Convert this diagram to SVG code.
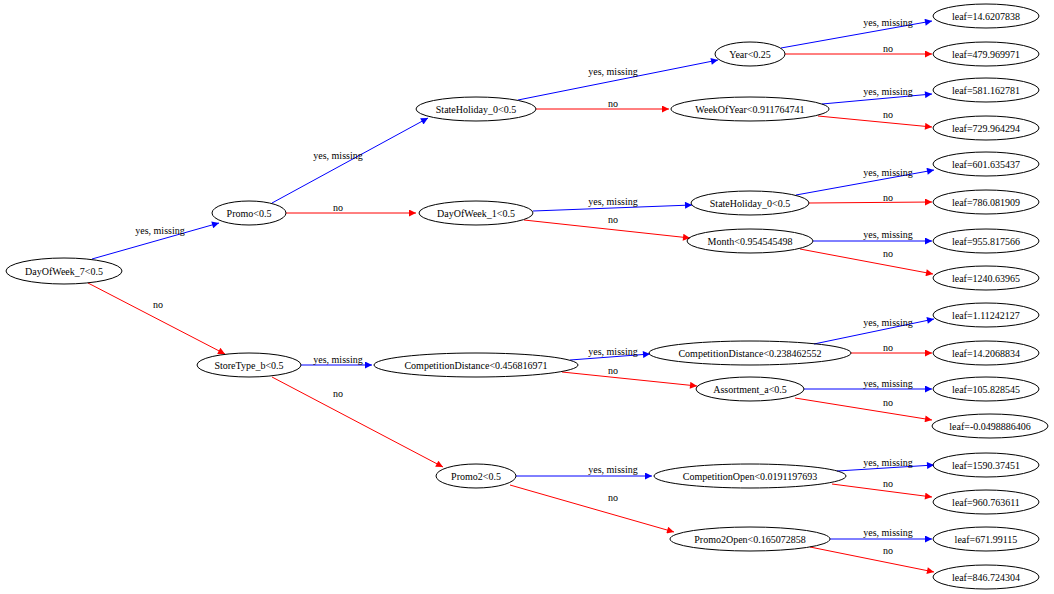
<svg xmlns="http://www.w3.org/2000/svg" width="1054" height="594" viewBox="0 0 1054 594">
<style>
text{font-family:"Liberation Serif","Times New Roman",serif;font-size:10px;fill:#000}
.n ellipse{fill:none;stroke:#000;stroke-width:1}
.n text{text-anchor:middle;dominant-baseline:central}
.y{stroke:#0000ff;fill:none;marker-end:url(#ab)}
.r{stroke:#ff0000;fill:none;marker-end:url(#ar)}
.l{text-anchor:middle}
</style>
<defs>
<marker id="ab" viewBox="0 0 10 10" refX="10" refY="5" markerWidth="9" markerHeight="7" orient="auto" markerUnits="userSpaceOnUse"><path d="M0,0L10,5L0,10z" fill="#0000ff"/></marker>
<marker id="ar" viewBox="0 0 10 10" refX="10" refY="5" markerWidth="9" markerHeight="7" orient="auto" markerUnits="userSpaceOnUse"><path d="M0,0L10,5L0,10z" fill="#ff0000"/></marker>
</defs>
<rect width="1054" height="594" fill="#fff"/>
<g id="connectors">
<path class="y" d="M92,259L219,223"/><text class="l" x="160" y="234">yes, missing</text>
<path class="r" d="M88,283L225,354"/><text class="l" x="158" y="308">no</text>
<path class="y" d="M272,203L428,118"/><text class="l" x="338" y="159">yes, missing</text>
<path class="r" d="M286,213L416,213"/><text class="l" x="338" y="211">no</text>
<path class="y" d="M301,365L372,365"/><text class="l" x="338" y="363">yes, missing</text>
<path class="r" d="M272,377L443,467"/><text class="l" x="338" y="397">no</text>
<path class="y" d="M518,100L718,60"/><text class="l" x="613" y="75">yes, missing</text>
<path class="r" d="M536,109L669,109"/><text class="l" x="613" y="107">no</text>
<path class="y" d="M533,211L692,205"/><text class="l" x="613" y="205">yes, missing</text>
<path class="r" d="M524,220L690,238"/><text class="l" x="613" y="223">no</text>
<path class="y" d="M570,360L650,354"/><text class="l" x="613" y="355">yes, missing</text>
<path class="r" d="M562,372L697,386"/><text class="l" x="613" y="374">no</text>
<path class="y" d="M516,476L652,476"/><text class="l" x="613" y="473">yes, missing</text>
<path class="r" d="M510,485L674,532"/><text class="l" x="613" y="501">no</text>
<path class="y" d="M781,48L932,21"/><text class="l" x="888" y="26">yes, missing</text>
<path class="r" d="M785,54L932,54"/><text class="l" x="888" y="52">no</text>
<path class="y" d="M822,104L932,94"/><text class="l" x="888" y="95">yes, missing</text>
<path class="r" d="M818,116L932,127"/><text class="l" x="888" y="118">no</text>
<path class="y" d="M796,195L934,170"/><text class="l" x="888" y="176">yes, missing</text>
<path class="r" d="M809,203L932,202"/><text class="l" x="888" y="201">no</text>
<path class="y" d="M813,241L932,241"/><text class="l" x="888" y="238">yes, missing</text>
<path class="r" d="M800,249L933,274"/><text class="l" x="888" y="257">no</text>
<path class="y" d="M814,344L934,319"/><text class="l" x="888" y="326">yes, missing</text>
<path class="r" d="M851,353L932,353"/><text class="l" x="888" y="351">no</text>
<path class="y" d="M804,389L932,389"/><text class="l" x="888" y="387">yes, missing</text>
<path class="r" d="M795,398L932,420"/><text class="l" x="888" y="406">no</text>
<path class="y" d="M837,471L934,465"/><text class="l" x="888" y="466">yes, missing</text>
<path class="r" d="M832,484L932,497"/><text class="l" x="888" y="487">no</text>
<path class="y" d="M830,539L932,539"/><text class="l" x="888" y="536">yes, missing</text>
<path class="r" d="M810,547L934,572"/><text class="l" x="888" y="554">no</text>
</g>
<g id="n0" class="n"><ellipse cx="64" cy="271" rx="58" ry="13"/><text x="64" y="271">DayOfWeek_7&lt;0.5</text></g>
<g id="n1" class="n"><ellipse cx="249" cy="213" rx="37" ry="12"/><text x="249" y="213">Promo&lt;0.5</text></g>
<g id="n2" class="n"><ellipse cx="249" cy="365" rx="52" ry="12"/><text x="249" y="365">StoreType_b&lt;0.5</text></g>
<g id="n3" class="n"><ellipse cx="476" cy="109" rx="60" ry="12"/><text x="476" y="109">StateHoliday_0&lt;0.5</text></g>
<g id="n4" class="n"><ellipse cx="476" cy="213" rx="57" ry="12"/><text x="476" y="213">DayOfWeek_1&lt;0.5</text></g>
<g id="n5" class="n"><ellipse cx="476" cy="365" rx="102" ry="12"/><text x="476" y="365">CompetitionDistance&lt;0.456816971</text></g>
<g id="n6" class="n"><ellipse cx="476" cy="476" rx="40" ry="12"/><text x="476" y="476">Promo2&lt;0.5</text></g>
<g id="n7" class="n"><ellipse cx="750" cy="54" rx="35" ry="12"/><text x="750" y="54">Year&lt;0.25</text></g>
<g id="n8" class="n"><ellipse cx="750" cy="109" rx="79" ry="12"/><text x="750" y="109">WeekOfYear&lt;0.911764741</text></g>
<g id="n9" class="n"><ellipse cx="750" cy="203" rx="59" ry="12"/><text x="750" y="203">StateHoliday_0&lt;0.5</text></g>
<g id="n10" class="n"><ellipse cx="750" cy="241" rx="63" ry="12"/><text x="750" y="241">Month&lt;0.954545498</text></g>
<g id="n11" class="n"><ellipse cx="750" cy="353" rx="101" ry="12"/><text x="750" y="353">CompetitionDistance&lt;0.238462552</text></g>
<g id="n12" class="n"><ellipse cx="750" cy="389" rx="54" ry="12"/><text x="750" y="389">Assortment_a&lt;0.5</text></g>
<g id="n13" class="n"><ellipse cx="750" cy="476" rx="96" ry="12"/><text x="750" y="476">CompetitionOpen&lt;0.0191197693</text></g>
<g id="n14" class="n"><ellipse cx="750" cy="539" rx="80" ry="12"/><text x="750" y="539">Promo2Open&lt;0.165072858</text></g>
<g id="l1" class="n"><ellipse cx="986" cy="16" rx="53" ry="12"/><text x="986" y="16">leaf=14.6207838</text></g>
<g id="l2" class="n"><ellipse cx="986" cy="54" rx="53" ry="12"/><text x="986" y="54">leaf=479.969971</text></g>
<g id="l3" class="n"><ellipse cx="986" cy="90" rx="53" ry="12"/><text x="986" y="90">leaf=581.162781</text></g>
<g id="l4" class="n"><ellipse cx="986" cy="128" rx="53" ry="12"/><text x="986" y="128">leaf=729.964294</text></g>
<g id="l5" class="n"><ellipse cx="986" cy="164" rx="53" ry="12"/><text x="986" y="164">leaf=601.635437</text></g>
<g id="l6" class="n"><ellipse cx="986" cy="202" rx="53" ry="12"/><text x="986" y="202">leaf=786.081909</text></g>
<g id="l7" class="n"><ellipse cx="986" cy="241" rx="53" ry="12"/><text x="986" y="241">leaf=955.817566</text></g>
<g id="l8" class="n"><ellipse cx="986" cy="278" rx="53" ry="12"/><text x="986" y="278">leaf=1240.63965</text></g>
<g id="l9" class="n"><ellipse cx="986" cy="315" rx="53" ry="12"/><text x="986" y="315">leaf=1.11242127</text></g>
<g id="l10" class="n"><ellipse cx="986" cy="353" rx="53" ry="12"/><text x="986" y="353">leaf=14.2068834</text></g>
<g id="l11" class="n"><ellipse cx="986" cy="389" rx="53" ry="12"/><text x="986" y="389">leaf=105.828545</text></g>
<g id="l12" class="n"><ellipse cx="990" cy="426" rx="58" ry="12"/><text x="990" y="426">leaf=-0.0498886406</text></g>
<g id="l13" class="n"><ellipse cx="986" cy="465" rx="53" ry="12"/><text x="986" y="465">leaf=1590.37451</text></g>
<g id="l14" class="n"><ellipse cx="986" cy="502" rx="53" ry="12"/><text x="986" y="502">leaf=960.763611</text></g>
<g id="l15" class="n"><ellipse cx="986" cy="539" rx="53" ry="12"/><text x="986" y="539">leaf=671.99115</text></g>
<g id="l16" class="n"><ellipse cx="986" cy="577" rx="53" ry="12"/><text x="986" y="577">leaf=846.724304</text></g>
</svg>
